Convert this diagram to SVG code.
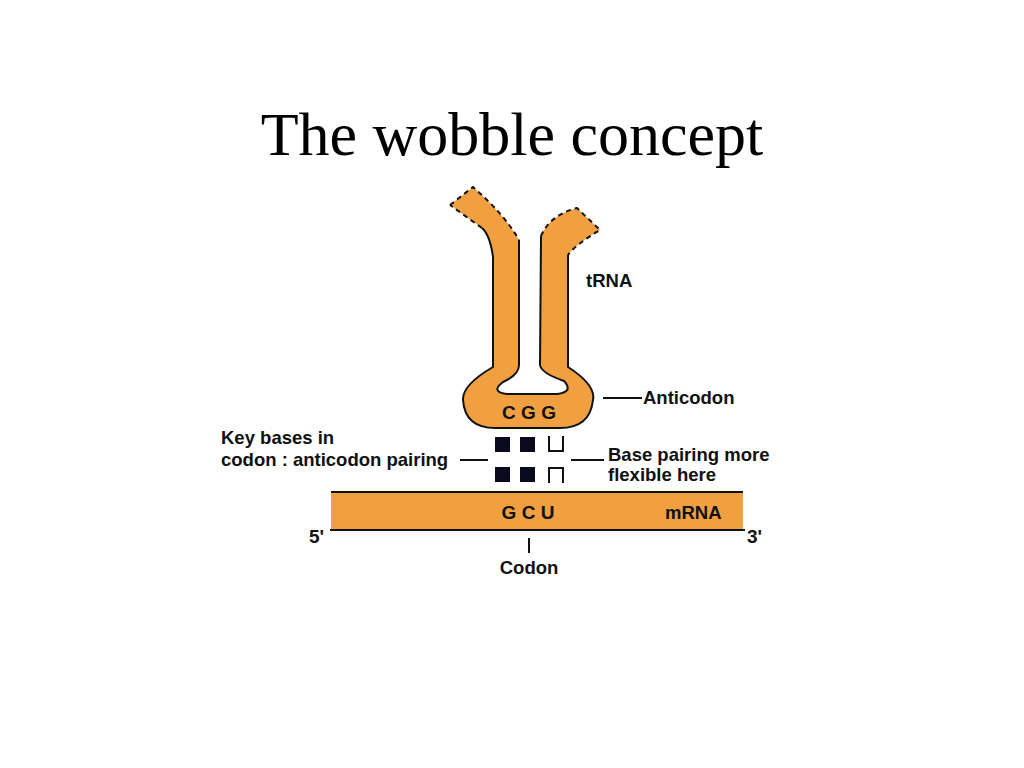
<svg xmlns="http://www.w3.org/2000/svg" width="1024" height="768" viewBox="0 0 1024 768">
<style>
.t{font-family:"Liberation Sans",Arial,sans-serif;font-weight:bold;font-size:18.5px;fill:#111}
.b{font-family:"Liberation Sans",Arial,sans-serif;font-weight:bold;font-size:19px;fill:#111}
.ln{stroke:#111;stroke-width:2;fill:none}
.sq{fill:#0a0a1e}
</style>
<rect width="1024" height="768" fill="#fff"/>
<text x="512" y="155" text-anchor="middle" font-family="Liberation Serif,Times New Roman,serif" font-size="62" fill="#000">The wobble concept</text>
<g id="trna">
<path d="M450,205 L473,187 Q505,215 519,240 L519,365 Q519,375 503,382 Q490,392 507,394 L557,394 Q574,392 564,381 Q541,373 540,365 L541,236 Q550,215 577,208 L600,230 Q575,245 568,255 L568,367 Q596,385 593,400 Q590,428 560,428 L495,428 Q465,428 463,400 Q462,385 493,367 L493,257 Q490,235 482,228 Z" fill="#F0A040" stroke="none"/>
<path d="M519,240 L519,365 Q519,375 503,382 Q490,392 507,394 L557,394 Q574,392 564,381 Q541,373 540,365 L541,236" class="ln" stroke-width="3"/>
<path d="M568,255 L568,367 Q596,385 593,400 Q590,428 560,428 L495,428 Q465,428 463,400 Q462,385 493,367 L493,257 Q490,235 482,228" class="ln" stroke-width="3"/>
<path d="M450,205 L473,187 Q505,215 519,240 M541,236 Q550,215 577,208 L600,230 Q575,245 568,255 M482,228 L450,205" class="ln" stroke-width="3" stroke-dasharray="5,4"/>
<text x="529" y="419" text-anchor="middle" class="b">C G G</text>
</g>
<text x="586" y="287" class="t">tRNA</text>
<g id="pairs">
<rect x="495" y="437" width="15" height="15" class="sq"/>
<rect x="520" y="437" width="15" height="15" class="sq"/>
<path d="M549,436 L549,451 L563,451 L563,436" class="ln" stroke-width="2.5"/>
<rect x="495" y="467" width="15" height="15" class="sq"/>
<rect x="520" y="467" width="15" height="15" class="sq"/>
<path d="M549,483 L549,468 L563,468 L563,483" class="ln" stroke-width="2.5"/>
</g>
<g id="mrna">
<rect x="331" y="492" width="412" height="38" fill="#F0A040"/>
<line x1="331" y1="492" x2="743" y2="492" class="ln"/>
<line x1="330" y1="530" x2="745" y2="530" class="ln"/>
<text x="528" y="519" text-anchor="middle" class="b">G C U</text>
<text x="665" y="519" class="t">mRNA</text>
<text x="309" y="543" class="b">5'</text>
<text x="747" y="543" class="b">3'</text>
</g>
<g id="connectors">
<line x1="603" y1="398" x2="642" y2="398" class="ln" stroke-width="1.5"/>
<line x1="460" y1="460" x2="488" y2="460" class="ln" stroke-width="1.5"/>
<line x1="571" y1="460" x2="604" y2="460" class="ln" stroke-width="1.5"/>
<line x1="529" y1="538" x2="529" y2="553" class="ln" stroke-width="1.5"/>
</g>
<text x="643" y="404" class="t">Anticodon</text>
<text x="221" y="444" class="t">Key bases in</text>
<text x="221" y="466" class="t">codon : anticodon pairing</text>
<text x="608" y="461" class="t">Base pairing more</text>
<text x="608" y="481" class="t">flexible here</text>
<text x="529" y="574" text-anchor="middle" class="t">Codon</text>
</svg>
